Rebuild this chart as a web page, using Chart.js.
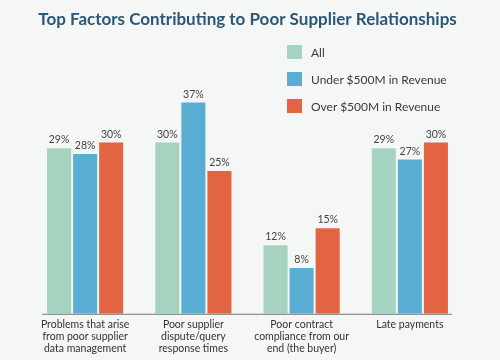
<!DOCTYPE html>
<html lang="en">
<head>
    <meta charset="UTF-8">
    <title>Top Factors Contributing to Poor Supplier Relationships</title>
    <script src="https://cdn.jsdelivr.net/npm/chart.js@4.4.0/dist/chart.umd.min.js"></script>
    <style>
        html, body { margin: 0; padding: 0; background: #f5f6f6; }
        #wrap { position: relative; width: 500px; height: 360px; font-family: Lato, "Open Sans", sans-serif; }
        #legend { position: absolute; left: 287px; top: 45px; }
        .item { display: flex; align-items: center; height: 14px; margin-bottom: 13px; font-size: 12px; color: #3a3a3a; }
        .box { width: 15px; height: 14px; margin-right: 9px; }
    </style>
</head>
<body>
<div id="wrap">
    <canvas id="chart" width="500" height="360"></canvas>
    <div id="legend"></div>
</div>
<script>
    // categories and values (percent)
    const categories = [
        ['Problems that arise', 'from poor supplier', 'data management'],
        ['Poor supplier', 'dispute/query', 'response times'],
        ['Poor contract', 'compliance from our', 'end (the buyer)'],
        ['Late payments']
    ];
    const seriesNames = ['All', 'Under $500M in Revenue', 'Over $500M in Revenue'];
    const allValues = [29, 30, 12, 29];
    const underValues = [28, 37, 8, 27];
    const overValues = [30, 25, 15, 30];
    const colors = ['#a6d3c0', '#5aaed4', '#e36443'];

    // legend
    const legend = document.getElementById('legend');
    seriesNames.forEach((name, i) => {
        const row = document.createElement('div');
        row.className = 'item';
        row.innerHTML = `<span class="box" style="background:${colors[i]}"></span><span>${name}</span>`;
        legend.appendChild(row);
    });

    // percent labels above the bars + short axis line
    const barLabels = {
        id: 'barLabels',
        afterDatasetsDraw(chart) {
            const ctx = chart.ctx;
            ctx.save();
            ctx.font = '10.5px Lato, "Open Sans", sans-serif';
            ctx.fillStyle = '#444';
            ctx.textAlign = 'center';
            ctx.textBaseline = 'bottom';
            chart.data.datasets.forEach((ds, i) => {
                chart.getDatasetMeta(i).data.forEach((bar, j) => {
                    ctx.fillText(ds.data[j] + '%', bar.x, bar.y - 3);
                });
            });
            const y = chart.scales.y.getPixelForValue(0);
            ctx.strokeStyle = '#777';
            ctx.lineWidth = 1;
            ctx.beginPath();
            ctx.moveTo(42, y + 0.5);
            ctx.lineTo(452, y + 0.5);
            ctx.stroke();
            ctx.restore();
        }
    };

    new Chart(document.getElementById('chart'), {
        type: 'bar',
        data: {
            labels: categories,
            datasets: [
                { label: seriesNames[0], data: allValues, backgroundColor: colors[0] },
                { label: seriesNames[1], data: underValues, backgroundColor: colors[1] },
                { label: seriesNames[2], data: overValues, backgroundColor: colors[2] }
            ]
        },
        options: {
            responsive: false,
            animation: false,
            layout: { padding: { left: 31, right: 36, top: 0, bottom: 0 } },
            categoryPercentage: 0.722,
            barPercentage: 0.923,
            plugins: {
                legend: { display: false },
                tooltip: { enabled: false },
                title: {
                    display: true,
                    text: 'Top Factors Contributing to Poor Supplier Relationships',
                    color: '#2b5877',
                    font: { family: 'Lato', size: 17, weight: 'bold' },
                    padding: { top: 9, bottom: 56 }
                }
            },
            scales: {
                x: {
                    grid: { display: false, drawTicks: false },
                    border: { display: false },
                    ticks: {
                        color: '#333',
                        font: { family: 'Lato', size: 10.5, lineHeight: 1.15 },
                        padding: 5,
                        maxRotation: 0,
                        autoSkip: false
                    }
                },
                y: {
                    display: false,
                    min: 0,
                    max: 40
                }
            }
        },
        plugins: [barLabels]
    });
</script>
</body>
</html>
